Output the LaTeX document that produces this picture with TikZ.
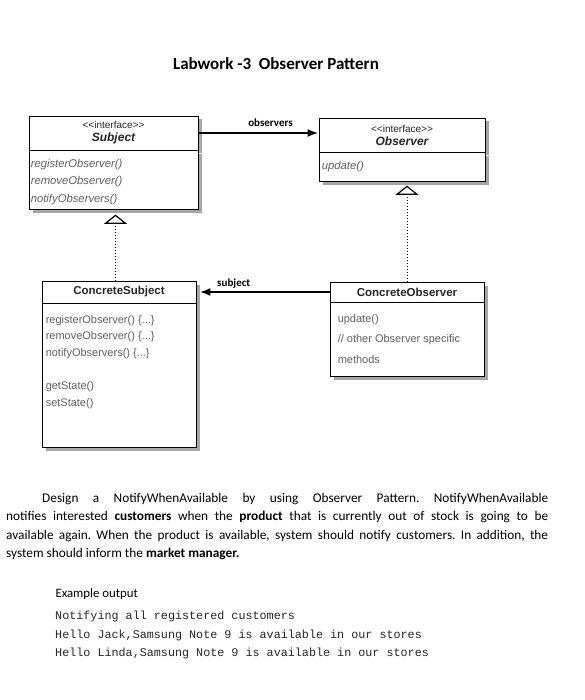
\documentclass[tikz,border=0pt]{standalone}
\usepackage{fontspec}
\setmainfont{Carlito}
\setmonofont{Liberation Mono}
\newfontfamily\umlfont{Liberation Sans}
\usetikzlibrary{positioning,shadows,arrows.meta}

\begin{document}
\begin{tikzpicture}[x=1pt,y=-1pt,
        umlbox/.style={draw, fill=white, line width=0.9pt, inner sep=0, text=black!85,
            drop shadow={shadow xshift=3.5pt,shadow yshift=-3.5pt,opacity=0.7}},
        umlops/.style={anchor=north west, align=left, inner sep=0, text=black!62},
        umlarrow/.style={line width=2pt, -{Latex[length=11pt,width=8pt]}},
        realize/.style={line width=0.9pt, dash pattern=on 0.9pt off 2.1pt},
        edgelabel/.style={font=\bfseries\fontsize{11}{13}\selectfont, inner sep=1pt}]
    \useasboundingbox (0,0) rectangle (585,700);
    \node [font=\bfseries\fontsize{17}{20}\selectfont] (title) at (276,64) {Labwork -3\ \ Observer Pattern};

    \node [umlbox, minimum width=169pt, minimum height=34pt, align=center] (subjhead) at (113.5,133)
        {{\umlfont\fontsize{10}{12}\selectfont <<interface>>}\\[1pt]{\umlfont\bfseries\itshape\fontsize{12}{14}\selectfont Subject}};
    \node [umlbox, minimum width=169pt, minimum height=59pt, below=0pt of subjhead] (subjbody) {};
    \node [umlops, font=\umlfont\itshape\fontsize{11.3}{17.5}\selectfont] (subjops) at ([xshift=2pt,yshift=-8.5pt]subjbody.north west)
        {registerObserver()\\removeObserver()\\notifyObservers()};

    \node [umlbox, minimum width=166pt, minimum height=34pt, align=center] (obshead) at (402,135)
        {{\umlfont\fontsize{10}{12}\selectfont <<interface>>}\\[1pt]{\umlfont\bfseries\itshape\fontsize{12}{14}\selectfont Observer}};
    \node [umlbox, minimum width=166pt, minimum height=29pt, below=0pt of obshead] (obsbody) {};
    \node [umlops, font=\umlfont\itshape\fontsize{11.3}{17.5}\selectfont] (obsops) at ([xshift=3pt,yshift=-8.5pt]obsbody.north west)
        {update()};

    \node [umlbox, minimum width=154pt, minimum height=22pt, font=\umlfont\bfseries\fontsize{11.5}{14}\selectfont] (cshead) at (119,292) {ConcreteSubject};
    \node [umlbox, minimum width=154pt, minimum height=144pt, below=0pt of cshead] (csbody) {};
    \node [umlops, font=\umlfont\fontsize{11}{16.6}\selectfont] (csops) at ([xshift=4pt,yshift=-11.5pt]csbody.north west)
        {registerObserver() \{...\}\\removeObserver() \{...\}\\notifyObservers() \{...\}\\[16.6pt]getState()\\setState()};

    \node [umlbox, minimum width=154pt, minimum height=20pt, font=\umlfont\bfseries\fontsize{11.5}{14}\selectfont] (cohead) at (407,292) {ConcreteObserver};
    \node [umlbox, minimum width=154pt, minimum height=74pt, below=0pt of cohead] (cobody) {};
    \node [umlops, font=\umlfont\fontsize{11}{20.5}\selectfont] (coops) at ([xshift=8pt,yshift=-11.5pt]cobody.north west)
        {update()\\// other Observer specific\\methods};

    \draw [umlarrow] (subjhead.east) -- (subjhead.east -| obshead.west) node [edgelabel, pos=0.6, above=4pt] {observers};
    \draw [umlarrow, shorten >=3pt] (cohead.west) -- (cohead.west -| cshead.east) node [edgelabel, pos=0.72, above=2pt] {subject};

    \coordinate (subjtip) at ([xshift=2pt,yshift=-5pt]subjbody.south);
    \draw [line width=1.2pt, fill=white] (subjtip) -- ++(-10,8) -- ++(20,0) -- cycle;
    \draw [realize] (cshead.north -| subjtip) -- ([yshift=-8pt]subjtip);
    \coordinate (obstip) at ([xshift=5pt,yshift=-4pt]obsbody.south);
    \draw [line width=1.2pt, fill=white] (obstip) -- ++(-10,8) -- ++(20,0) -- cycle;
    \draw [realize] (cohead.north -| obstip) -- ([yshift=-8pt]obstip);

    \node [anchor=north west, text width=542pt, inner sep=0, align=justify, font=\frenchspacing\fontsize{13.3}{18.4}\selectfont] (task) at (6,493)
        {\hspace*{36pt}Design a NotifyWhenAvailable by using Observer Pattern. NotifyWhenAvailable\linebreak
        notifies interested \textbf{customers} when the \textbf{product} that is currently out of stock is going to be\linebreak
        available again. When the product is available, system should notify customers. In addition, the\linebreak
        system should inform the \textbf{market manager.}};

    \node [anchor=west, font=\fontsize{12.8}{14}\selectfont] (exlabel) at (52,594) {Example output};
    \node [anchor=north west, align=left, inner sep=0, text=black!85, font=\ttfamily\fontsize{11.75}{18.5}\selectfont] (exout) at (55,611)
        {Notifying all registered customers\\Hello Jack,Samsung Note 9 is available in our stores\\Hello Linda,Samsung Note 9 is available in our stores};
\end{tikzpicture}
\end{document}
